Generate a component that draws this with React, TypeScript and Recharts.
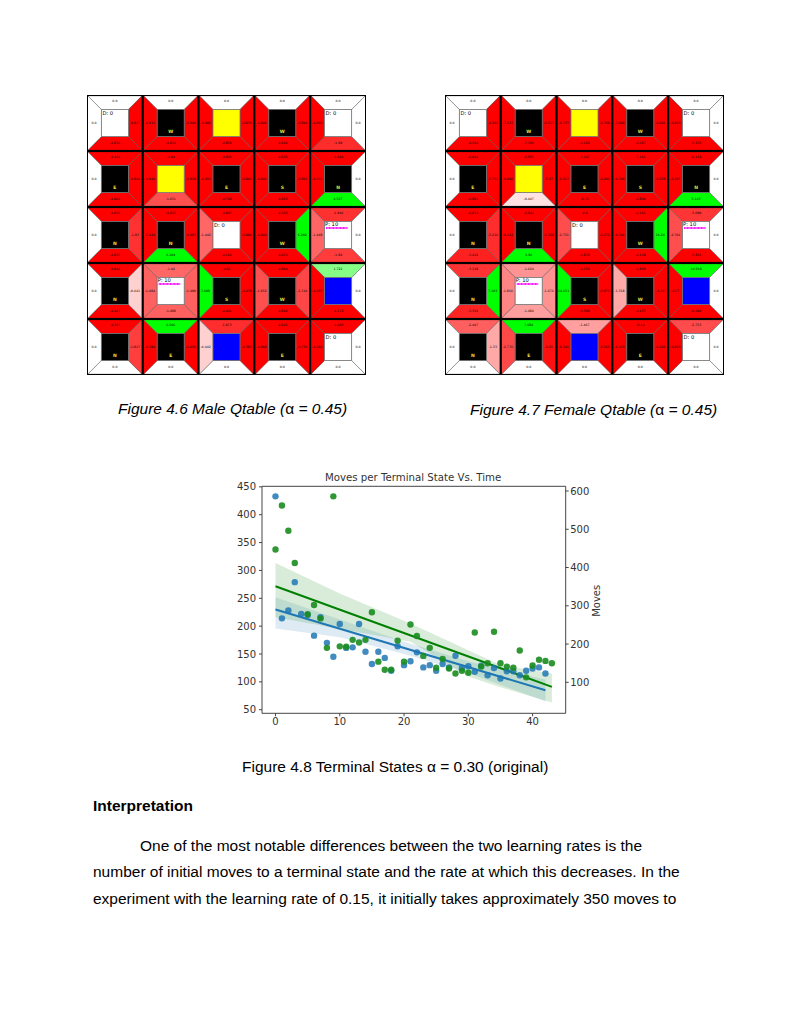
import { CSSProperties } from 'react';
import {
  Area,
  ComposedChart,
  Line,
  Scatter,
  ScatterChart,
  XAxis,
  YAxis
} from 'recharts';

// Moves per terminal state
const blueEpisodes = [0, 1, 2, 3, 4, 5, 6, 7, 8, 9, 10, 11, 12, 13, 14, 15, 16, 17, 18, 19, 20, 21, 22, 23, 24, 25, 26, 27, 28, 29, 30, 31, 32, 33, 34, 35, 36, 37, 38, 39, 40, 41, 42];
const blueMoves = [433, 214, 228, 279, 222, 220, 183, 216, 170, 145, 204, 161, 162, 204, 154, 132, 154, 143, 120, 164, 130, 137, 153, 126, 130, 120, 132, 126, 147, 125, 128, 118, 129, 112, 125, 106, 119, 119, 112, 120, 124, 126, 115];
const greenEpisodes = [0, 1, 2, 3, 5, 6, 7, 8, 9, 10, 11, 12, 13, 14, 15, 16, 17, 18, 19, 20, 21, 22, 23, 24, 25, 26, 27, 28, 29, 30, 31, 32, 33, 34, 35, 36, 37, 38, 39, 40, 41, 42, 43];
const greenMoves = [447, 562, 496, 412, 278, 302, 267, 190, 586, 194, 193, 211, 204, 211, 283, 154, 133, 133, 209, 154, 251, 221, 169, 190, 138, 161, 136, 123, 130, 125, 230, 141, 150, 232, 150, 141, 138, 183, 113, 144, 159, 156, 150];

const blueFitX = [0, 42];
const blueFitY = [230, 85];
const greenFitX = [0, 43];
const greenFitY = [351, 88];

const blueBandX = [0, 10, 20, 30, 42];
const blueBandLow = [196, 180, 150, 116, 65];
const blueBandHigh = [252, 212, 172, 137, 104];
const greenBandX = [0, 10, 21, 30, 35, 43];
const greenBandLow = [270, 240, 206, 115, 87, 47];
const greenBandHigh = [412, 332, 254, 184, 145, 123];

const xTicks = [0, 10, 20, 30, 40];
const leftTicks = [50, 100, 150, 200, 250, 300, 350, 400, 450];
const rightTicks = [100, 200, 300, 400, 500, 600];

// Q tables, five rows of five states
const maleKinds = [
  ['D', 'W', 'Y', 'W', 'D'],
  ['E', 'Y', 'E', 'S', 'N'],
  ['N', 'N', 'D', 'W', 'P'],
  ['N', 'P', 'S', 'W', 'B'],
  ['N', 'E', 'B', 'E', 'D']
];
const maleNorth = [
  [0, 0, 0, 0, 0],
  [-4.434, -4.94, -4.836, -4.836, -4.844],
  [-4.876, -4.815, -4.847, -4.503, -1.944],
  [-4.844, -1.44, -4.81, -4.804, 1.721],
  [-4.337, 6.506, -1.973, -4.926, -4.603]
];
const maleSouth = [
  [-4.836, -4.834, -4.859, -4.902, -1.99],
  [-4.864, -1.651, -4.749, -4.863, 6.527],
  [-4.835, 6.104, -4.166, -4.013, -1.84],
  [-4.447, -1.499, -4.441, -4.802, -4.172],
  [0, 0, 0, 0, 0]
];
const maleEast = [
  [-4.817, -4.866, -4.876, -4.846, 0],
  [-4.844, -4.918, -4.841, -4.861, 0],
  [-1.93, -4.083, -4.886, 6.202, 0],
  [-0.441, -1.499, -4.479, -1.744, 0],
  [-1.817, -4.656, -4.383, -4.736, 0]
];
const maleWest = [
  [0, -4.911, -4.986, -4.846, -4.801],
  [0, -4.944, -4.951, -4.841, -4.761],
  [0, -7.024, -1.442, -4.844, -1.448],
  [0, -1.484, 7.609, -1.652, -4.387],
  [0, -4.384, -0.442, -4.808, -4.384]
];

const femaleKinds = [
  ['D', 'W', 'Y', 'W', 'D'],
  ['E', 'Y', 'E', 'S', 'N'],
  ['N', 'N', 'D', 'W', 'P'],
  ['N', 'P', 'S', 'W', 'B'],
  ['N', 'E', 'B', 'E', 'D']
];
const femaleNorth = [
  [0, 0, 0, 0, 0],
  [-6.844, -6.891, -7.147, -7.161, -6.419],
  [-6.874, -6.841, -6.9, -6.161, -3.099],
  [-3.119, -1.664, -6.159, -6.868, 10.569],
  [-2.447, 7.684, -1.467, -6.14, -2.753]
];
const femaleSouth = [
  [-4.564, -7.196, -6.129, -6.687, -5.233],
  [-6.881, -0.447, -6.75, -6.866, 5.143],
  [-3.412, 6.96, -6.872, -6.418, -5.861],
  [-3.352, -1.484, -6.508, -6.433, -6.094],
  [0, 0, 0, 0, 0]
];
const femaleEast = [
  [-4.561, -6.517, -6.769, -6.601, 0],
  [-5.751, -5.87, -6.201, -6.558, 0],
  [-3.216, -6.329, -6.172, 16.24, 0],
  [7.103, -1.676, -6.071, -6.16, 0],
  [-1.33, -3.65, -6.563, -6.102, 0]
];
const femaleWest = [
  [0, -7.537, -6.737, -7.806, -6.833],
  [0, -6.896, -6.317, -6.296, -6.207],
  [0, -6.622, -2.731, -6.291, -2.701],
  [0, -1.866, 14.151, -1.318, -6.77],
  [0, -2.776, -6.241, -6.433, -6.833]
];

const PAGE_FONT = '"Liberation Sans", Arial, sans-serif';
const PLOT_FONT = '"DejaVu Sans", sans-serif';
const CELL = 55.8;
const INNER = 27;

const mix = (amount: number, channel: 'red' | 'green') => {
  const k = Math.min(1, amount);
  const low = Math.round(255 * (1 - k));
  return channel === 'red' ? `rgb(255,${low},${low})` : `rgb(${low},255,${low})`;
};

const valueColor = (value: number, redScale: number) => {
  if (value === 0) return '#ffffff';
  return value > 0 ? mix(value / 3.6, 'green') : mix(-value / redScale, 'red');
};

const valueText = (value: number) => (value === 0 ? '0.0' : String(value));

const QCell = ({ cx, cy, payload, redScale }: any) => {
  const o = CELL / 2;
  const i = INNER / 2;
  const sides = [
    { value: payload.north, pts: [[-o, -o], [o, -o], [i, -i], [-i, -i]], tx: 0, ty: -o + 6 },
    { value: payload.south, pts: [[-o, o], [o, o], [i, i], [-i, i]], tx: 0, ty: o - 8 },
    { value: payload.east, pts: [[o, -o], [o, o], [i, i], [i, -i]], tx: o - 8, ty: 0 },
    { value: payload.west, pts: [[-o, -o], [-o, o], [-i, i], [-i, -i]], tx: -o + 7, ty: 0 }
  ];
  const kind = payload.kind;
  const innerFill = kind === 'D' || kind === 'P' ? '#ffffff' : kind === 'Y' ? '#ffff00' : kind === 'B' ? '#0000ff' : '#000000';

  return (
    <g>
      {sides.map((side, index) => (
        <g key={index}>
          <polygon
            points={side.pts.map(([px, py]) => `${cx + px},${cy + py}`).join(' ')}
            fill={valueColor(side.value, redScale)}
            stroke="#555555"
            strokeWidth={0.5}
          />
          <text
            x={cx + side.tx}
            y={cy + side.ty + 1.1}
            textAnchor="middle"
            fontSize={3.2}
            fontFamily={PLOT_FONT}
            fill="#000000"
          >
            {valueText(side.value)}
          </text>
        </g>
      ))}
      <rect x={cx - i} y={cy - i} width={INNER} height={INNER} fill={innerFill} stroke="#777777" strokeWidth={0.8} />
      <rect x={cx - o} y={cy - o} width={CELL} height={CELL} fill="none" stroke="#000000" strokeWidth={2} />
      {kind === 'D' && (
        <text x={cx - i + 1} y={cy - i + 5.5} fontSize={5.2} fontFamily={PLOT_FONT} fill="#000000">D: 0</text>
      )}
      {kind === 'P' && (
        <g>
          <text x={cx - i + 0.5} y={cy - i + 4} fontSize={5.2} fontFamily={PLOT_FONT} fill="#000000">P: 10</text>
          <line x1={cx - i + 1.5} x2={cx + i - 4} y1={cy - i + 6.5} y2={cy - i + 6.5} stroke="#ff00ff" strokeWidth={2} strokeDasharray="1 0.4" />
        </g>
      )}
      {kind !== 'D' && kind !== 'P' && kind !== 'Y' && kind !== 'B' && (
        <text x={cx} y={cy + 10} textAnchor="middle" fontSize={4.5} fontWeight="bold" fontFamily={PLOT_FONT} fill="#e0e040">{kind}</text>
      )}
    </g>
  );
};

const buildCells = (kinds: string[][], north: number[][], south: number[][], east: number[][], west: number[][]) =>
  kinds.flatMap((row, r) =>
    row.map((kind, c) => ({
      col: c + 0.5,
      row: r + 0.5,
      kind,
      north: north[r][c],
      south: south[r][c],
      east: east[r][c],
      west: west[r][c]
    }))
  );

const QTable = ({ left, cells, redScale }: { left: number; cells: any[]; redScale: number }) => (
  <div style={{ position: 'absolute', left, top: 95 }}>
    <ScatterChart width={279} height={280} margin={{ top: 0, right: 0, bottom: 0, left: 0 }}>
      <XAxis type="number" dataKey="col" domain={[0, 5]} hide />
      <YAxis type="number" dataKey="row" domain={[0, 5]} reversed hide />
      <Scatter
        data={cells}
        isAnimationActive={false}
        shape={(props: any) => <QCell {...props} redScale={redScale} />}
      />
    </ScatterChart>
  </div>
);

const toPoints = (xs: number[], ys: number[]) => xs.map((x, i) => ({ x, y: ys[i] }));
const toBand = (xs: number[], low: number[], high: number[]) => xs.map((x, i) => ({ x, range: [low[i], high[i]] }));

const textAt = (left: number, top: number, extra: CSSProperties = {}): CSSProperties => ({
  position: 'absolute',
  left,
  top,
  fontFamily: PAGE_FONT,
  fontSize: 15.5,
  lineHeight: '20px',
  color: '#000000',
  whiteSpace: 'nowrap',
  ...extra
});

const axisTick = { fontSize: 10, fontFamily: PLOT_FONT, fill: '#333333' };

const App = () => (
  <div style={{ position: 'absolute', left: 0, top: 0, width: 791, height: 1024, background: '#ffffff', overflow: 'hidden' }}>
    <QTable left={87} cells={buildCells(maleKinds, maleNorth, maleSouth, maleEast, maleWest)} redScale={2.4} />
    <QTable left={445} cells={buildCells(femaleKinds, femaleNorth, femaleSouth, femaleEast, femaleWest)} redScale={3.9} />

    <div style={textAt(118, 399, { fontStyle: 'italic' })}>
      Figure 4.6 Male Qtable (<span style={{ fontStyle: 'normal' }}>α</span> = 0.45)
    </div>
    <div style={textAt(470, 400, { fontStyle: 'italic' })}>
      Figure 4.7 Female Qtable (<span style={{ fontStyle: 'normal' }}>α</span> = 0.45)
    </div>

    <div style={textAt(325, 471, { fontFamily: PLOT_FONT, fontSize: 10.2, lineHeight: '14px', color: '#333333' })}>
      Moves per Terminal State Vs. Time
    </div>
    <div style={{ position: 'absolute', left: 220, top: 465 }}>
      <ComposedChart width={385} height={275} margin={{ top: 20.3, right: 9.3, bottom: 6.7, left: 10 }}>
        <XAxis
          xAxisId="bottom"
          type="number"
          dataKey="x"
          domain={[-2.1, 45.15]}
          ticks={xTicks}
          tick={axisTick}
          tickSize={3}
          height={20}
          stroke="#444444"
        />
        <XAxis
          xAxisId="top"
          orientation="top"
          type="number"
          dataKey="x"
          domain={[-2.1, 45.15]}
          ticks={xTicks}
          tick={false}
          tickLine={false}
          height={1}
          stroke="#444444"
        />
        <YAxis
          yAxisId="left"
          type="number"
          domain={[43.6, 451]}
          ticks={leftTicks}
          tick={axisTick}
          tickSize={3}
          tickMargin={3}
          width={32}
          stroke="#444444"
        />
        <YAxis
          yAxisId="right"
          orientation="right"
          type="number"
          domain={[19, 612.3]}
          ticks={rightTicks}
          tick={axisTick}
          tickSize={3}
          tickMargin={1.5}
          width={30}
          stroke="#444444"
          label={{ value: 'Moves', angle: -90, position: 'right', offset: 1, dy: 17, style: { fontSize: 10, fontFamily: PLOT_FONT, fill: '#333333' } }}
        />
        <Area
          data={toBand(blueBandX, blueBandLow, blueBandHigh)}
          dataKey="range"
          xAxisId="bottom"
          yAxisId="left"
          stroke="none"
          fill="#1f77b4"
          fillOpacity={0.15}
          isAnimationActive={false}
        />
        <Scatter
          data={toPoints(blueEpisodes, blueMoves)}
          dataKey="y"
          xAxisId="bottom"
          yAxisId="left"
          fill="#1f77b4"
          fillOpacity={0.85}
          shape={(p: any) => <circle cx={p.cx} cy={p.cy} r={3.2} fill="#1f77b4" fillOpacity={0.85} />}
          isAnimationActive={false}
        />
        <Line
          data={toPoints(blueFitX, blueFitY)}
          dataKey="y"
          xAxisId="bottom"
          yAxisId="left"
          stroke="#1f77b4"
          strokeWidth={2}
          dot={false}
          isAnimationActive={false}
        />
        <Area
          data={toBand(greenBandX, greenBandLow, greenBandHigh)}
          dataKey="range"
          xAxisId="bottom"
          yAxisId="right"
          stroke="none"
          fill="#008000"
          fillOpacity={0.15}
          isAnimationActive={false}
        />
        <Scatter
          data={toPoints(greenEpisodes, greenMoves)}
          dataKey="y"
          xAxisId="bottom"
          yAxisId="right"
          fill="#2a962f"
          shape={(p: any) => <circle cx={p.cx} cy={p.cy} r={3.2} fill="#1a8c1f" fillOpacity={0.9} />}
          isAnimationActive={false}
        />
        <Line
          data={toPoints(greenFitX, greenFitY)}
          dataKey="y"
          xAxisId="bottom"
          yAxisId="right"
          stroke="#008000"
          strokeWidth={2}
          dot={false}
          isAnimationActive={false}
        />
      </ComposedChart>
    </div>

    <div style={textAt(242, 757)}>Figure 4.8 Terminal States α = 0.30 (original)</div>
    <div style={textAt(93, 796, { fontWeight: 'bold' })}>Interpretation</div>
    <div style={textAt(140, 836)}>One of the most notable differences between the two learning rates is the</div>
    <div style={textAt(93, 862)}>number of initial moves to a terminal state and the rate at which this decreases. In the</div>
    <div style={textAt(93, 889)}>experiment with the learning rate of 0.15, it initially takes approximately 350 moves to</div>
  </div>
);

export default App;
